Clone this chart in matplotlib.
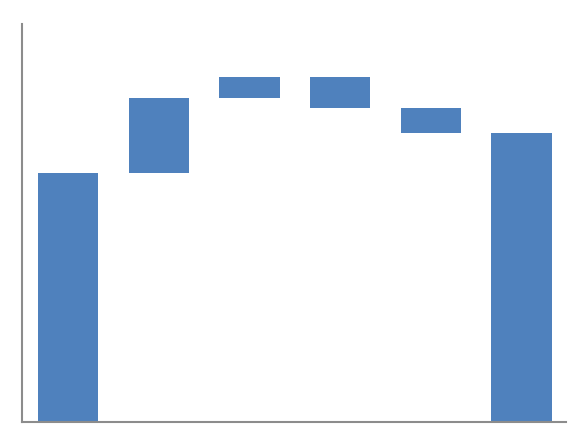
import matplotlib
matplotlib.use("Agg")
import matplotlib.pyplot as plt
import numpy as np

# waterfall: start, changes, end
categories = ["Start", "Step 1", "Step 2", "Step 3", "Step 4", "End"]
start_value = 62.5
changes = [18.9, 5.2, -7.8, -6.3]
end_value = start_value + sum(changes)

bottoms = [0]
heights = [start_value]
running = start_value
for c in changes:
    bottoms.append(min(running, running + c))
    heights.append(abs(c))
    running += c
bottoms.append(0)
heights.append(end_value)

fig = plt.figure(figsize=(5.87, 4.43), dpi=100)
ax = fig.add_axes([22/587, 21.5/443, 544/587, 397.5/443])

x = np.arange(len(categories))
ax.bar(x, heights, bottom=bottoms, width=0.667, color="#4F81BD")

ax.set_xlim(-0.51, len(categories) - 0.51)
ax.set_ylim(0, 100)
ax.set_xticks([])
ax.set_yticks([])
for s in ["top", "right"]:
    ax.spines[s].set_visible(False)
for s in ["left", "bottom"]:
    ax.spines[s].set_color("#8c8c8c")
    ax.spines[s].set_linewidth(1.5)

fig.savefig("out.png", dpi=100)
